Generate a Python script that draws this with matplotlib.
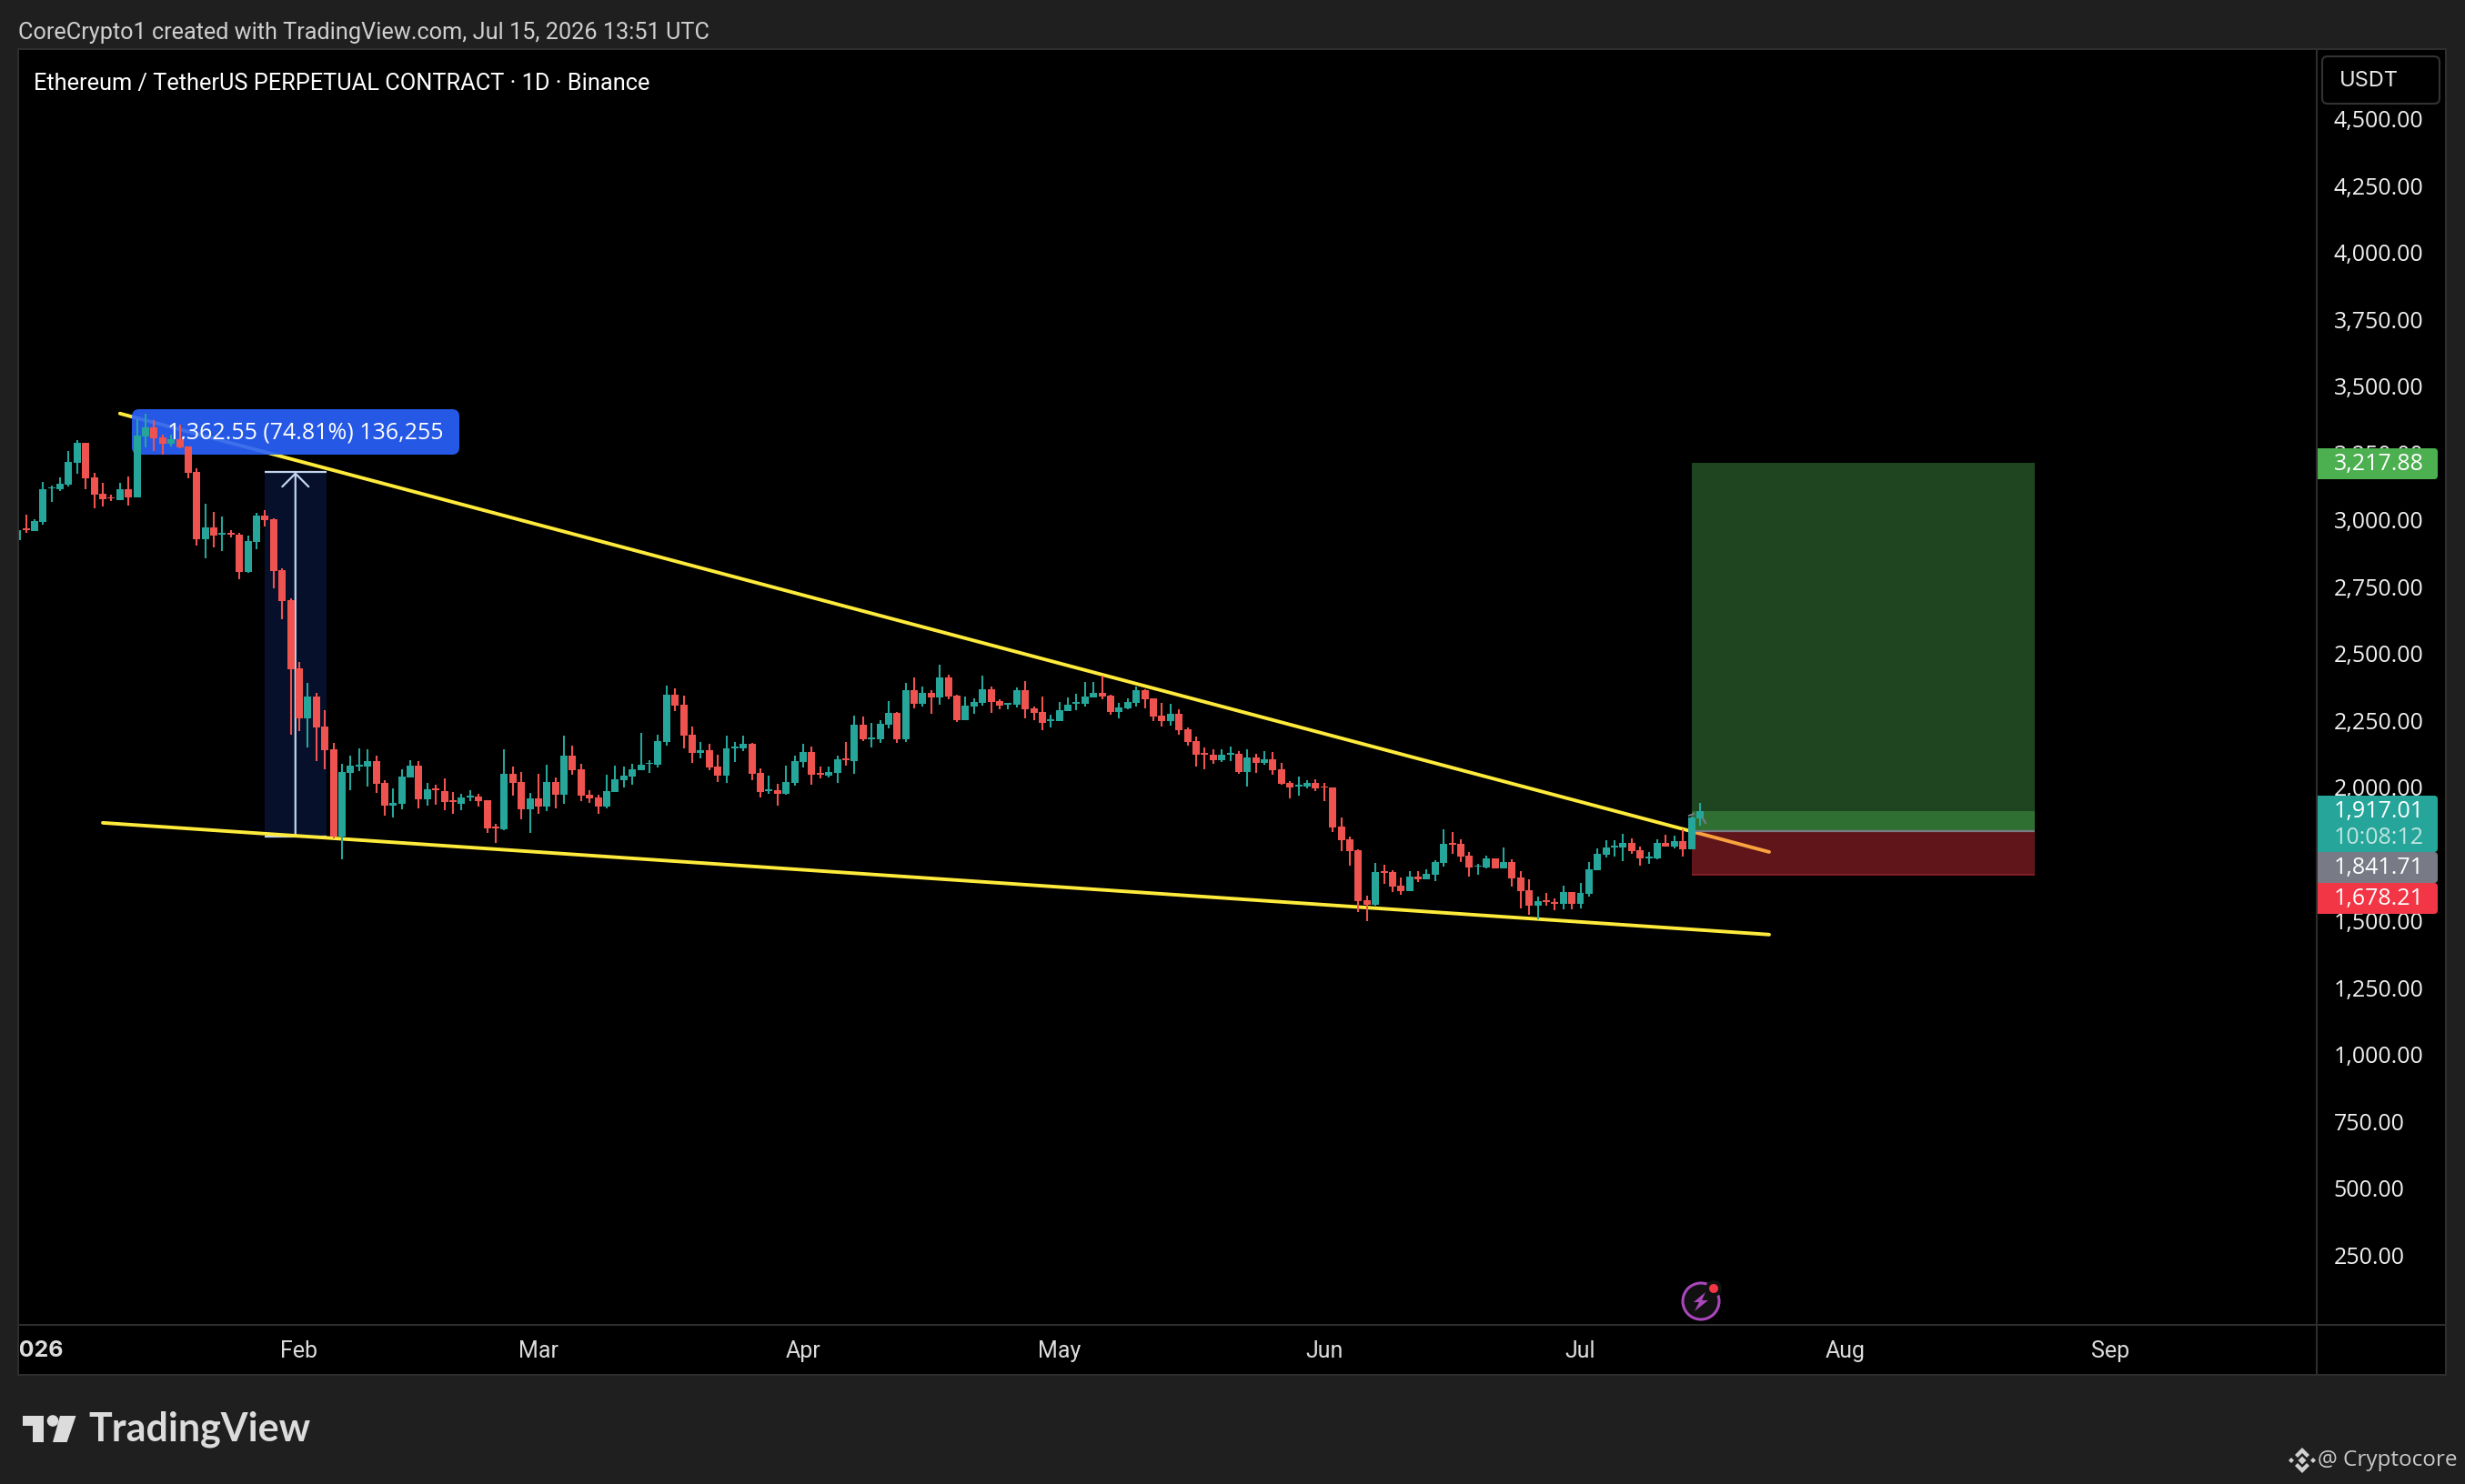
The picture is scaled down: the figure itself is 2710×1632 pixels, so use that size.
import numpy as np
import matplotlib
matplotlib.use("Agg")
import matplotlib.pyplot as plt
from matplotlib.patches import FancyBboxPatch, Rectangle, Polygon, Circle
from matplotlib.transforms import Bbox, ScaledTranslation

W, H = 2710, 1632
BG = "#1f1f1f"
UP = "#26a69a"
DOWN = "#ef5350"
PRICE_FONT = ["Open Sans", "DejaVu Sans"]
TEXT_FONT = ["Roboto", "DejaVu Sans"]

# daily candles, last one is Jul 15 (day 0 = Feb 1)
first_day = -33
opens = [2930,2973,2963,2997,3123,3119,3137,3219,3293,3164,
         3103,3090,3079,3120,3089,3317,3351,3313,3290,3307,
         3279,3185,2933,2977,2951,2956,2950,2810,2922,3021,
         3007,2816,2705,2450,2263,2344,2231,2146,1820,2059,
         2083,2083,2102,2021,1936,1943,2042,2085,1960,2001,
         1990,1955,1943,1967,1970,1956,1858,1847,2055,2024,
         1922,1964,1933,2025,1977,2123,2072,1977,1967,1933,
         1987,2032,2045,2069,2091,2089,2174,2351,2314,2202,
         2134,2144,2083,2049,2151,2151,2168,2059,1991,1994,
         1981,2021,2100,2137,2059,2049,2059,2113,2103,2239,
         2186,2185,2239,2283,2185,2368,2317,2358,2341,2416,
         2348,2256,2307,2321,2372,2327,2314,2314,2368,2300,
         2287,2254,2253,2290,2318,2317,2341,2358,2348,2287,
         2300,2321,2368,2338,2273,2253,2280,2222,2178,2134,
         2127,2106,2128,2130,2062,2117,2096,2110,2072,2021,
         2009,2008,2021,2008,2004,1858,1810,1770,1583,1566,
         1690,1688,1637,1617,1671,1661,1678,1722,1797,1794,
         1749,1707,1705,1739,1702,1726,1668,1620,1562,1583,
         1576,1569,1613,1569,1607,1695,1753,1781,1780,1797,
         1770,1740,1739,1797,1783,1804,1773,1889]
highs = [3007,3023,3006,3147,3132,3164,3262,3302,3293,3180,
         3143,3100,3143,3166,3381,3402,3378,3323,3323,3363,
         3280,3197,3065,3035,3018,2967,2956,2946,3030,3041,
         3011,2823,2711,2474,2395,2357,2293,2170,2093,2123,
         2151,2146,2123,2032,2000,2072,2106,2102,2021,2015,
         2038,1987,1981,1994,1981,1956,1868,2147,2083,2062,
         1983,2055,2089,2042,2198,2161,2093,1994,1977,2052,
         2086,2083,2093,2208,2106,2202,2385,2375,2348,2232,
         2174,2168,2127,2198,2174,2198,2171,2076,2049,2018,
         2086,2123,2168,2157,2083,2083,2123,2174,2273,2270,
         2246,2256,2328,2287,2396,2416,2382,2368,2464,2426,
         2351,2345,2338,2423,2382,2334,2321,2379,2402,2307,
         2345,2277,2324,2341,2355,2399,2399,2423,2351,2321,
         2338,2382,2372,2338,2321,2317,2297,2229,2195,2154,
         2147,2147,2157,2140,2147,2130,2140,2137,2096,2028,
         2045,2032,2035,2021,2004,1892,1821,1773,1600,1722,
         1715,1695,1668,1692,1692,1698,1732,1848,1838,1811,
         1763,1719,1749,1739,1780,1736,1692,1661,1596,1610,
         1590,1637,1613,1647,1726,1777,1807,1807,1831,1814,
         1783,1763,1811,1828,1824,1848,1895,1947]
lows = [2917,2956,2963,2987,3072,3114,3130,3177,3120,3048,
        3055,3075,3079,3058,3089,3276,3262,3250,3280,3273,
        3160,2909,2861,2901,2888,2939,2782,2808,2895,2980,
        2748,2633,2203,2215,2153,2102,2072,1814,1735,1994,
        2067,2007,1983,1898,1892,1922,2042,1926,1936,1939,
        1919,1905,1919,1953,1932,1834,1796,1845,1974,1885,
        1834,1905,1916,1926,1943,2052,1953,1947,1906,1926,
        1987,2004,2015,2069,2059,2079,2161,2290,2151,2096,
        2113,2069,2025,2021,2100,2140,2032,1967,1981,1936,
        1977,2011,2079,2015,2038,2042,2021,2086,2055,2178,
        2154,2171,2225,2171,2174,2300,2307,2280,2314,2334,
        2249,2256,2280,2311,2283,2297,2297,2304,2263,2256,
        2219,2229,2253,2290,2293,2307,2341,2334,2277,2263,
        2297,2307,2300,2253,2232,2236,2202,2161,2083,2072,
        2093,2100,2103,2055,2008,2059,2089,2052,2015,1964,
        1974,2001,1991,1953,1838,1766,1712,1539,1505,1562,
        1644,1613,1603,1617,1651,1661,1654,1709,1756,1726,
        1671,1678,1702,1702,1702,1634,1552,1528,1511,1562,
        1545,1549,1549,1552,1596,1695,1743,1746,1729,1756,
        1712,1719,1736,1783,1777,1746,1773,1862]
closes = [2968,2966,3001,3120,3127,3140,3222,3293,3160,3100,
          3082,3085,3120,3089,3321,3351,3311,3290,3307,3277,
          3181,2933,2977,2946,2956,2951,2810,2926,3021,3004,
          2814,2701,2446,2263,2344,2229,2144,1820,2062,2085,
          2089,2102,2017,1936,1946,2045,2085,1960,1998,1995,
          1949,1949,1966,1973,1953,1851,1852,2055,2021,1922,
          1964,1932,2025,1977,2123,2069,1974,1964,1933,1991,
          2035,2049,2072,2089,2095,2178,2351,2311,2198,2134,
          2143,2079,2049,2151,2156,2168,2055,1987,1996,1981,
          2025,2103,2137,2052,2052,2062,2110,2106,2239,2185,
          2191,2242,2283,2185,2368,2317,2358,2341,2416,2345,
          2256,2311,2324,2372,2324,2311,2321,2368,2297,2283,
          2246,2259,2293,2314,2324,2345,2358,2345,2287,2304,
          2324,2368,2334,2270,2253,2280,2219,2174,2127,2128,
          2106,2127,2134,2062,2117,2096,2110,2069,2018,2004,
          2013,2021,2001,2003,1855,1807,1766,1579,1566,1688,
          1685,1634,1617,1671,1661,1681,1726,1794,1791,1746,
          1705,1713,1739,1702,1726,1664,1617,1562,1579,1577,
          1570,1613,1569,1610,1698,1756,1780,1787,1797,1766,
          1739,1746,1797,1783,1804,1773,1892,1917]

# trend lines (day, price)
upper_line_days = [-21, 172.1]
upper_line_prices = [3403, 1763]
lower_line_days = [-23, 172.1]
lower_line_prices = [1872, 1454]

# long position tool
entry_price = 1841.71
target_price = 3217.88
stop_price = 1678.21
last_price = 1917.01
position_days = [163, 203.2]

# price range tool
range_days = [-4.05, 3.15]
range_prices = [1821.4, 3183.9]
range_text = "1,362.55 (74.81%) 136,255"

y_ticks = list(range(250, 4501, 250))
month_days = [-31, 0, 28, 59, 89, 120, 150, 181, 212]
month_labels = ["2026", "Feb", "Mar", "Apr", "May", "Jun", "Jul", "Aug", "Sep"]

opens, highs, lows, closes = map(np.array, (opens, highs, lows, closes))
days = first_day + np.arange(len(closes))
colors = np.where(closes >= opens, UP, DOWN)

fig = plt.figure(figsize=(W / 100, H / 100), dpi=100, facecolor=BG)
plt.rcParams["font.family"] = ["Inter", "DejaVu Sans"]

# overlay in image pixels for the chrome around the chart
ov = fig.add_axes([0, 0, 1, 1], zorder=10)
ov.set_xlim(0, W)
ov.set_ylim(H, 0)
ov.axis("off")
ov.patch.set_alpha(0)

ov.add_patch(Rectangle((20, 54), 2669, 1458, fc="none", ec="#2e2e2e", lw=1.5))
ov.plot([2547, 2547], [54, 1512], color="#2e2e2e", lw=1.5)
ov.plot([20, 2689], [1457, 1457], color="#2e2e2e", lw=1.5)

# chart pane
pane = fig.add_axes([20 / W, 1 - 1512 / H, 2669 / W, 1458 / H], zorder=0)
pane.set_facecolor("black")
pane.set_xticks([])
pane.set_yticks([])
for s in pane.spines.values():
    s.set_visible(False)

ax = fig.add_axes([20 / W, 1 - 1457 / H, 2527 / W, 1403 / H], zorder=1)
ax.patch.set_alpha(0)
for s in ax.spines.values():
    s.set_visible(False)

ax.add_patch(Rectangle((range_days[0], range_prices[0]), range_days[1] - range_days[0],
                       range_prices[1] - range_prices[0], fc="#07102a", ec="none", zorder=1))
range_color = "#c3d4f0"
ax.hlines(range_prices, range_days[0], range_days[1], color=range_color, lw=1.6, zorder=1.5)
ax.annotate("", xy=(np.mean(range_days), range_prices[1]), xytext=(np.mean(range_days), range_prices[0]),
            arrowprops=dict(arrowstyle="->,head_length=0.4,head_width=0.4", color=range_color, lw=1.6,
                            shrinkA=0, shrinkB=0, mutation_scale=26),
            zorder=1.6)

ax.plot(upper_line_days, upper_line_prices, color="#ffeb3b", lw=2.8, solid_capstyle="round", zorder=2)
ax.plot(lower_line_days, lower_line_prices, color="#ffeb3b", lw=2.8, solid_capstyle="round", zorder=2)

# position boxes go over the trend line, that is what turns it orange
pw = position_days[1] - position_days[0]
ax.add_patch(Rectangle((position_days[0], entry_price), pw, target_price - entry_price,
                       fc="#4caf50", alpha=0.4, ec="none", zorder=2.5))
ax.add_patch(Rectangle((position_days[0], entry_price), pw, last_price - entry_price,
                       fc="#4caf50", alpha=0.4, ec="none", zorder=2.5))
ax.add_patch(Rectangle((position_days[0], stop_price), pw, entry_price - stop_price,
                       fc="#f23645", alpha=0.4, ec="none", zorder=2.5))
ax.hlines(entry_price, position_days[0], position_days[1], color="#787b86", lw=1.6, zorder=2.6)
ax.hlines(stop_price, position_days[0], position_days[1], color="#8f232c", lw=1.2, zorder=2.6)

# blue label of the range tool sits under the candles
ax.add_patch(FancyBboxPatch((145, 450), 360, 50, boxstyle="round,pad=0,rounding_size=8",
                            fc="#2962ff", alpha=0.9, ec="none", transform=ov.transData, zorder=3))
ax.text(487, 476, range_text, color="white", fontsize=18, ha="right", va="center",
        family=PRICE_FONT, transform=ov.transData, zorder=3.5)

ax.vlines(days, lows, highs, colors=colors, lw=1.5, zorder=4)
ax.bar(days, np.abs(closes - opens), bottom=np.minimum(opens, closes), width=0.85,
       color=colors, lw=0, zorder=4.1)

ax.set_xlim((20 - 329) / 9.39, (2547 - 329) / 9.39)
ax.set_ylim(4500 - (1457 - 132.2) / 0.29402, 4500 - (54 - 132.2) / 0.29402)

ax.yaxis.tick_right()
ax.set_yticks(y_ticks, [f"{v:,.2f}" for v in y_ticks])
ax.tick_params(axis="y", length=0, pad=13.5, labelsize=18, labelcolor="#f0f0f0")
# labels sit a touch above the price they mark
nudge = ScaledTranslation(0, 0.015, fig.dpi_scale_trans)
for lab in ax.get_yticklabels():
    lab.set_family(PRICE_FONT)
    lab.set_transform(lab.get_transform() + nudge)
ax.set_xticks(month_days, month_labels)
ax.tick_params(axis="x", length=0, pad=12.5, labelsize=18, labelcolor="#dcdcdc")
for lab in ax.get_xticklabels():
    lab.set_family(TEXT_FONT)
first = ax.get_xticklabels()[0]
first.set_family(["Inter", "DejaVu Sans"])
first.set_fontsize(18)
first.set_fontweight("bold")
first.set_clip_on(True)
first.set_clip_box(Bbox.from_extents(22, 0, W, H))

# price tags on the axis
def tag(y0, y1, color):
    ov.add_patch(Rectangle((2548, y0), 125, y1 - y0, fc=color, ec="none", zorder=3))
    ov.add_patch(FancyBboxPatch((2560, y0), 120, y1 - y0, boxstyle="round,pad=0,rounding_size=4",
                                fc=color, ec="none", zorder=3))

tag(493, 527, "#4caf50")
tag(875, 937, UP)
tag(937, 971, "#787b86")
tag(971, 1005, "#f23645")
tag_kw = dict(fontsize=18, ha="left", va="center", family=PRICE_FONT, zorder=4)
ov.text(2566, 510, f"{target_price:,.2f}", color="white", **tag_kw)
ov.text(2566, 892, f"{last_price:,.2f}", color="white", **tag_kw)
ov.text(2566, 921, "10:08:12", color="#bfe5e1", **tag_kw)
ov.text(2566, 954, f"{entry_price:,.2f}", color="white", **tag_kw)
ov.text(2566, 989, f"{stop_price:,.2f}", color="white", **tag_kw)

ov.add_patch(FancyBboxPatch((2553, 62), 129, 52, boxstyle="round,pad=0,rounding_size=6",
                            fc="black", ec="#333333", lw=1.5))
ov.text(2604, 89, "USDT", color="#e8e8e8", fontsize=17, ha="center", va="center")

# header
ov.text(20, 36, "CoreCrypto1 created with TradingView.com, Jul 15, 2026 13:51 UTC", color="#cfcfcf",
        fontsize=18.2, family=TEXT_FONT, va="center")
ov.text(37, 91.5, "Ethereum / TetherUS PERPETUAL CONTRACT · 1D · Binance", color="white",
        fontsize=18.3, family=TEXT_FONT, va="center")

# small grey marks next to the last candles
ov.plot([1857, 1862], [897, 895], color="#787b86", lw=1.5)
ov.plot([1872, 1875], [900, 905], color="#787b86", lw=1.5)

# lightning icon
ov.add_patch(Circle((1870, 1431), 20, fc="#111111", ec="#ab47bc", lw=2.2))
ov.add_patch(Polygon([(1875, 1421), (1862, 1432), (1868, 1432), (1863, 1442), (1878, 1430), (1871, 1430)],
                     fc="#ab47bc", ec="none"))
ov.add_patch(Circle((1884, 1417), 9, fc="#111111", ec="none"))
ov.add_patch(Circle((1884, 1417), 5, fc="#f23645", ec="none"))

# TradingView logo
logo = "#dcdcdc"
ov.add_patch(Polygon([(24.5, 1557), (48, 1557), (48, 1586), (36, 1586), (36, 1568), (24.5, 1568)], fc=logo, ec="none"))
ov.add_patch(Circle((58, 1562.5), 6.3, fc=logo, ec="none"))
ov.add_patch(Polygon([(66, 1557), (83.5, 1557), (73.6, 1586), (58, 1586)], fc=logo, ec="none"))
ov.text(97, 1585, "TradingView", color=logo, fontsize=31, fontweight="bold", va="baseline",
        family=["Lato", "DejaVu Sans"])

# watermark bottom right
cx, cy = 2531, 1606
mark = "#d0d0d0"
for dx, r in [(0, 4.5), (-12, 3), (12, 3)]:
    ov.add_patch(Polygon([(cx + dx, cy - r), (cx + dx + r, cy), (cx + dx, cy + r), (cx + dx - r, cy)], fc=mark, ec="none"))
for s in (-1, 1):
    ov.add_patch(Polygon([(cx, cy + s * 14), (cx + 8, cy + s * 6), (cx + 5, cy + s * 3), (cx, cy + s * 8),
                          (cx - 5, cy + s * 3), (cx - 8, cy + s * 6)], fc=mark, ec="none"))
ov.text(2548, 1606, "@ Cryptocore", color="#c8c8c8", fontsize=17.5, va="center",
        family=["Open Sans", "DejaVu Sans"])

fig.savefig("out.png", dpi=100, facecolor=BG)
